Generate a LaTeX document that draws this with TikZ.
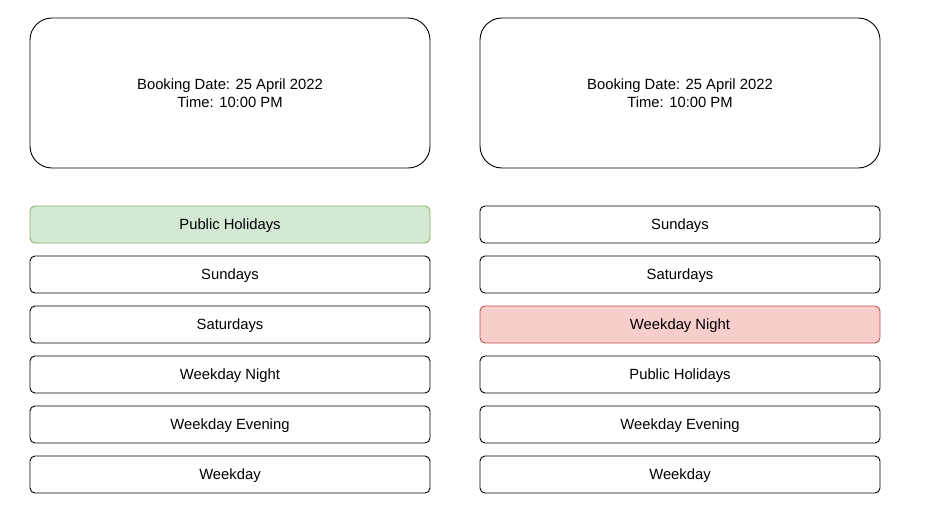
\documentclass[tikz,border=0pt]{standalone}
\usepackage{fontspec}
\setmainfont{Liberation Sans}
\definecolor{greenfill}{HTML}{D5E8D4}
\definecolor{greenline}{HTML}{82B366}
\definecolor{redfill}{HTML}{F8CECC}
\definecolor{redline}{HTML}{B85450}
\tikzset{
  datebox/.style={draw, line width=0.9pt, rounded corners=22pt, minimum width=400pt,
    minimum height=150pt, align=center, font=\fontsize{14.8}{18}\selectfont, inner sep=0pt},
  rulebox/.style={draw, line width=0.9pt, rounded corners=5pt, minimum width=400pt,
    minimum height=37pt, font=\fontsize{14.8}{18}\selectfont, inner sep=0pt,
    text height=11pt, text depth=2pt},
  hitbox/.style={rulebox, draw=greenline, fill=greenfill},
  missbox/.style={rulebox, draw=redline, fill=redfill}
}
\begin{document}
\begin{tikzpicture}[x=1pt,y=-1pt]
\useasboundingbox (0,0) rectangle (928,527);
%LEFT
  \node (dateL) at (230,93) [datebox] {Booking Date: 25 April 2022\\Time: 10:00 PM};
  \node (holL) at (230,224.5) [hitbox] {Public Holidays};
  \node (sunL) at (230,274.5) [rulebox] {Sundays};
  \node (satL) at (230,324.5) [rulebox] {Saturdays};
  \node (nightL) at (230,374.5) [rulebox] {Weekday Night};
  \node (evenL) at (230,424.5) [rulebox] {Weekday Evening};
  \node (dayL) at (230,474.5) [rulebox] {Weekday};

%RIGHT
  \node (dateR) at (680,93) [datebox] {Booking Date: 25 April 2022\\Time: 10:00 PM};
  \node (sunR) at (680,224.5) [rulebox] {Sundays};
  \node (satR) at (680,274.5) [rulebox] {Saturdays};
  \node (nightR) at (680,324.5) [missbox] {Weekday Night};
  \node (holR) at (680,374.5) [rulebox] {Public Holidays};
  \node (evenR) at (680,424.5) [rulebox] {Weekday Evening};
  \node (dayR) at (680,474.5) [rulebox] {Weekday};
\end{tikzpicture}
\end{document}
